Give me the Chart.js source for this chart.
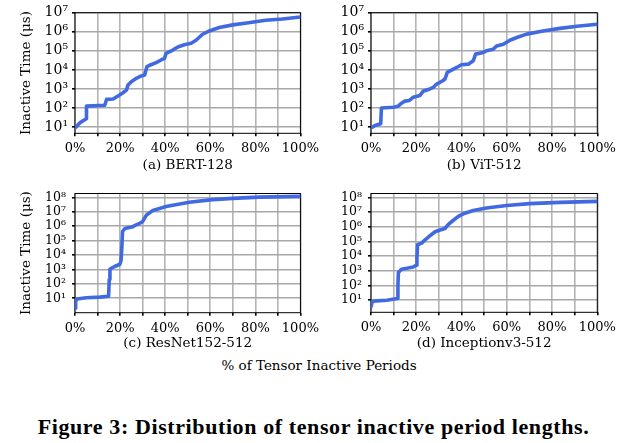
<!DOCTYPE html>
<html><head><meta charset="utf-8">
<script src="https://cdn.jsdelivr.net/npm/chart.js@4.4.1/dist/chart.umd.min.js"></script>
<style>
html,body{margin:0;padding:0;background:#fff;}
body{width:627px;height:443px;position:relative;overflow:hidden;font-family:'DejaVu Serif',serif;}
canvas{position:absolute;}
.t{position:absolute;white-space:nowrap;color:#000;}
</style></head><body>
<canvas id="ca" width="324" height="174" style="left:0px;top:0px"></canvas>
<canvas id="cb" width="331" height="174" style="left:296px;top:0px"></canvas>
<canvas id="cc" width="324" height="172" style="left:0px;top:180px"></canvas>
<canvas id="cd" width="331" height="172" style="left:296px;top:180px"></canvas>
<div class="t" style="left:0;width:638px;text-align:center;top:357px;font-size:13.5px;line-height:17px;font-family:'DejaVu Serif'">% of Tensor Inactive Periods</div>
<div class="t" style="left:0;width:627px;text-align:center;top:413px;font:bold 22px 'Liberation Serif',serif;letter-spacing:0.6px;line-height:28px">Figure 3: Distribution of tensor inactive period lengths.</div>
<script>
// ---- data ----
const bertX = [0, 2.2, 4, 4.9, 5.1, 13.2, 14, 16.9, 19.1, 21.3, 22.8, 23.5, 25, 27.2, 29.4, 30.9, 31.9, 33.1, 36, 38.2, 39.7, 40.4, 43.4, 45.6, 48.5, 51.5, 53.7, 56.6, 59.6, 64, 70, 77, 84.6, 92, 100];
const bertY = [9, 17, 23, 27, 126, 138, 282, 295, 427, 630, 870, 1590, 2400, 3630, 4800, 5380, 14800, 17400, 24000, 33000, 40000, 74000, 1.1e5, 1.6e5, 2.1e5, 2.5e5, 3.6e5, 7.4e5, 1.1e6, 1.66e6, 2.3e6, 3e6, 4e6, 4.7e6, 5.9e6];

const vitX = [0, 1.8, 4.3, 4.6, 9.9, 12, 13, 15, 17, 18.7, 21.6, 23, 26, 27.5, 29, 31.7, 32.7, 33.7, 36.4, 38.6, 40, 43, 45.2, 46.2, 49.6, 51, 54, 55.5, 58.5, 61.4, 64.4, 68.8, 76, 83.5, 91, 100];
const vitY = [9, 12, 15, 100, 110, 125, 160, 230, 250, 370, 450, 750, 1000, 1200, 1800, 2700, 3300, 7400, 11000, 15000, 18600, 20000, 30000, 67000, 82000, 1e5, 1.2e5, 1.8e5, 2.2e5, 3.6e5, 5e5, 7.5e5, 1.1e6, 1.5e6, 1.95e6, 2.5e6];

const resX = [0, 0.3, 0.8, 5, 11, 14.9, 15.2, 15.5, 17.6, 19.9, 20.4, 20.8, 21.1, 22.1, 25.7, 26.9, 28.7, 29.9, 31.6, 34.6, 40.4, 50.7, 61, 70, 81.6, 100];
const resY = [2, 6, 9, 11, 12, 14, 200, 1070, 1600, 2300, 4000, 40000, 4.3e5, 7e5, 9.3e5, 1.2e6, 1.6e6, 2e6, 5.7e6, 1.25e7, 2.3e7, 4.6e7, 7e7, 8.5e7, 1.05e8, 1.17e8];

const incX = [0, 0.6, 2.5, 7, 11.6, 11.9, 12.1, 13.5, 15.8, 18.7, 19.9, 20.3, 20.6, 22.4, 23.9, 26, 28.3, 30.5, 32.7, 34.2, 36.4, 38.6, 40.8, 45.2, 51, 60, 70, 83.5, 100];
const incY = [3.6, 8.5, 9, 10, 13, 100, 770, 1300, 1500, 1850, 2400, 8000, 6e4, 7.7e4, 1.3e5, 2.4e5, 4.6e5, 6e5, 7.7e5, 1.45e6, 2.8e6, 5.1e6, 7.7e6, 1.3e7, 1.9e7, 2.8e7, 3.8e7, 4.6e7, 5.4e7];

const xTickValues = [0, 20, 40, 60, 80, 100];
const xTickLabels = ['0%', '20%', '40%', '60%', '80%', '100%'];
const yExpTop = [1, 2, 3, 4, 5, 6, 7];
const yExpBottom = [1, 2, 3, 4, 5, 6, 7, 8];
const subCaptions = ['(a) BERT-128', '(b) ViT-512', '(c) ResNet152-512', '(d) Inceptionv3-512'];
const yTitle = 'Inactive Time (\u03BCs)';

// ---- drawing ----
const SUP = ['\u2070','\u00B9','\u00B2','\u00B3','\u2074','\u2075','\u2076','\u2077','\u2078'];
const frame = {
  id: 'frame',
  beforeDatasetsDraw(chart) {
    const {ctx, chartArea: a} = chart;
    ctx.save();
    ctx.strokeStyle = '#000';
    ctx.lineWidth = 1;
    ctx.strokeRect(a.left, a.top, a.right - a.left, a.bottom - a.top);
    ctx.restore();
  }
};

function makeChart(id, xs, ys, o) {
  const pts = xs.map((x, i) => ({x: x, y: ys[i]}));
  return new Chart(document.getElementById(id), {
    type: 'line',
    data: {datasets: [{data: pts, borderColor: '#4169e1', borderWidth: 3.6, pointRadius: 0,
      fill: false, tension: 0, borderJoinStyle: 'round', borderCapStyle: 'round'}]},
    plugins: [frame],
    options: {
      responsive: false, animation: false, devicePixelRatio: 1,
      layout: {padding: {top: o.top, right: o.right, left: 0, bottom: 0}},
      plugins: {legend: {display: false}, tooltip: {enabled: false}},
      scales: {
        x: {
          type: 'linear', min: 0, max: 100,
          afterFit: s => { s.height = o.xh; },
          border: {display: false},
          grid: {color: '#b4b4b4', lineWidth: 1.6, tickColor: '#000', tickLength: 3, drawTicks: true},
          ticks: {stepSize: 10, autoSkip: false, maxRotation: 0, padding: 5, color: '#000',
            font: {family: 'DejaVu Serif', size: 13},
            callback: v => { const k = xTickValues.indexOf(v); return k >= 0 ? xTickLabels[k] : ''; }},
          title: {display: true, text: o.sub, color: '#000', padding: {top: 0, bottom: 0},
            font: {family: 'DejaVu Serif', size: 13.5}}
        },
        y: {
          type: 'logarithmic', min: o.ymin, max: o.ymax,
          afterFit: s => { s.width = 75; },
          afterBuildTicks: s => { s.ticks = o.exps.map(e => ({value: Math.pow(10, e)})); },
          border: {display: false},
          grid: {color: '#a8a8a8', lineWidth: 1.6, tickColor: '#000', tickLength: 3, drawTicks: true},
          ticks: {padding: o.tpad, color: '#000', autoSkip: false,
            font: {family: 'DejaVu Serif', size: o.yfs},
            callback: v => '10' + SUP[Math.round(Math.log10(v))]},
          title: {display: o.ytitle, text: yTitle, color: '#000', padding: {top: 18.6, bottom: 0},
            font: {family: 'DejaVu Serif', size: 13.5}}
        }
      }
    }
  });
}

makeChart('ca', bertX, bertY, {top: 12.7, right: 22.3, xh: 40.7, ymin: 4.7, ymax: 1e7, exps: yExpTop, tpad: 4, yfs: 14, ytitle: true, sub: subCaptions[0]});
makeChart('cb', vitX, vitY, {top: 12.7, right: 29.7, xh: 40.7, ymin: 4.7, ymax: 1e7, exps: yExpTop, tpad: 4, yfs: 14, ytitle: false, sub: subCaptions[1]});
makeChart('cc', resX, resY, {top: 11, right: 22.3, xh: 39.3, ymin: 1, ymax: 1.86e8, exps: yExpBottom, tpad: 6, yfs: 12.5, ytitle: true, sub: subCaptions[2]});
makeChart('cd', incX, incY, {top: 11, right: 29.7, xh: 39.7, ymin: 1.5, ymax: 1.86e8, exps: yExpBottom, tpad: 6, yfs: 12.5, ytitle: false, sub: subCaptions[3]});
</script>
</body></html>
